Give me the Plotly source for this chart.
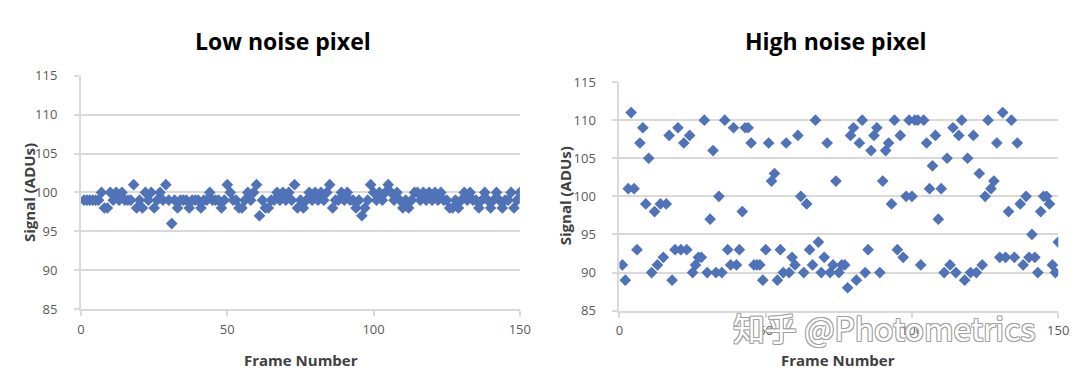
import plotly.graph_objects as go

# ---------------- data ----------------
frames = list(range(1, 151))

low_noise = [
    99, 99, 99, 99, 99, 99, 100, 98, 98, 100,
    99, 100, 99, 100, 99, 99, 99, 101, 98, 99,
    98, 100, 99, 100, 98, 99, 100, 99, 101, 99,
    96, 99, 98, 99, 99, 99, 98, 99, 99, 99,
    98, 99, 99, 100, 99, 99, 99, 98, 99, 101,
    100, 99, 99, 98, 98, 99, 100, 99, 100, 101,
    97, 99, 98, 98, 99, 99, 100, 99, 100, 99,
    100, 99, 101, 98, 99, 98, 99, 100, 99, 100,
    99, 100, 99, 100, 101, 98, 99, 99, 100, 99,
    100, 99, 99, 98, 99, 97, 98, 99, 101, 100,
    99, 100, 99, 100, 101, 100, 99, 100, 99, 98,
    99, 98, 99, 100, 100, 99, 100, 99, 100, 99,
    100, 99, 100, 99, 99, 98, 98, 99, 98, 99,
    100, 99, 100, 99, 99, 98, 99, 100, 99, 98,
    99, 100, 99, 98, 99, 99, 100, 98, 99, 100,
]

high_noise = [
    91, 89, 101, 111, 101, 93, 107, 109, 99, 105,
    90, 98, 91, 99, 92, 99, 108, 89, 93, 109,
    93, 107, 93, 108, 90, 91, 92, 92, 110, 90,
    97, 106, 90, 100, 90, 110, 93, 91, 109, 91,
    93, 98, 109, 109, 107, 91, 91, 91, 89, 93,
    107, 102, 103, 89, 93, 90, 107, 90, 92, 91,
    108, 100, 90, 99, 93, 91, 110, 94, 90, 92,
    107, 90, 91, 102, 90, 91, 91, 88, 108, 109,
    89, 107, 110, 90, 93, 106, 108, 109, 90, 102,
    106, 107, 99, 110, 93, 108, 92, 100, 110, 100,
    110, 110, 91, 110, 107, 101, 104, 108, 97, 101,
    90, 105, 91, 109, 90, 108, 110, 89, 105, 90,
    108, 90, 103, 91, 100, 110, 101, 102, 107, 92,
    111, 92, 98, 110, 92, 107, 99, 91, 100, 92,
    95, 92, 90, 98, 100, 100, 99, 91, 90, 94,
]

titles = ["Low noise pixel", "High noise pixel"]
x_title = "Frame Number"
y_title = "Signal (ADUs)"
x_ticks = [0, 50, 100, 150]
y_ticks = [85, 90, 95, 100, 105, 110, 115]

# ---------------- styling ----------------
W, H = 1080, 378
marker_color = "#4F72B8"
grid_color = "#D9D9D9"
tick_font = dict(family="Open Sans, Liberation Sans, sans-serif", size=13, color="#595959")
axis_title_font = dict(family="Open Sans, Liberation Sans, sans-serif", size=15, color="#404040")

fig = go.Figure()

fig.add_trace(go.Scatter(
    x=frames, y=low_noise, mode="markers", xaxis="x", yaxis="y",
    marker=dict(symbol="diamond", size=9, color=marker_color),
    showlegend=False, hoverinfo="x+y",
))
fig.add_trace(go.Scatter(
    x=frames, y=high_noise, mode="markers", xaxis="x2", yaxis="y2",
    marker=dict(symbol="diamond", size=9, color=marker_color),
    showlegend=False, hoverinfo="x+y",
))

def px_x(p):
    return p / W

def px_y(p):
    return 1 - p / H

common_x = dict(
    range=[0, 150], tickvals=x_ticks, showgrid=False, zeroline=False,
    showline=True, linecolor=grid_color, linewidth=2,
    ticks="outside", ticklen=5, tickcolor=grid_color, tickwidth=2,
    tickfont=tick_font, ticklabelstandoff=2,
)
common_y = dict(
    range=[85, 115], tickvals=y_ticks, showgrid=True, gridcolor=grid_color,
    gridwidth=2, zeroline=False, showline=True, linecolor=grid_color,
    linewidth=2, ticks="outside", ticklen=5, tickcolor=grid_color,
    tickwidth=2, tickfont=tick_font, ticklabelstandoff=14,
)

fig.update_layout(
    width=W, height=H,
    margin=dict(l=0, r=0, t=0, b=0),
    paper_bgcolor="white", plot_bgcolor="white",
    xaxis=dict(domain=[px_x(70), px_x(515)], anchor="y", **common_x),
    yaxis=dict(domain=[px_y(306.7), px_y(61.7)], anchor="x", **common_y),
    xaxis2=dict(domain=[px_x(616), px_x(1061)], anchor="y2", **common_x),
    yaxis2=dict(domain=[px_y(308.3), px_y(68.3)], anchor="x2", **common_y),
)

annotations = []
title_font = dict(family="Open Sans, Liberation Sans, sans-serif", size=23, color="black")
for tx, text in [(275, titles[0]), (836, titles[1])]:
    annotations.append(dict(
        x=px_x(tx), y=px_y(25), xref="paper", yref="paper",
        text=f"<b>{text}</b>", showarrow=False, font=title_font,
        xanchor="center", yanchor="middle",
    ))
for tx in [293, 838]:
    annotations.append(dict(
        x=px_x(tx), y=px_y(360), xref="paper", yref="paper",
        text=f"<b>{x_title}</b>", showarrow=False, font=axis_title_font,
        xanchor="center", yanchor="middle",
    ))
for tx, ty in [(17, 184), (561, 188)]:
    annotations.append(dict(
        x=px_x(tx), y=px_y(ty), xref="paper", yref="paper",
        text=f"<b>{y_title}</b>", showarrow=False, font=axis_title_font,
        textangle=-90, xanchor="center", yanchor="middle",
    ))
# watermark (white text with grey outline, as in the reference)
annotations.append(dict(
    x=px_x(884), y=px_y(326), xref="paper", yref="paper",
    text="知乎 @Photometrics", showarrow=False,
    font=dict(family="Noto Sans CJK SC, Noto Sans, sans-serif", size=32,
              color="white",
              shadow="-1px -1px 0 #a0a0a0, 1px -1px 0 #a0a0a0, -1px 1px 0 #a0a0a0, 1px 1px 0 #a0a0a0"),
    xanchor="center", yanchor="middle",
))
fig.update_layout(annotations=annotations)

fig.write_html("out.html")
